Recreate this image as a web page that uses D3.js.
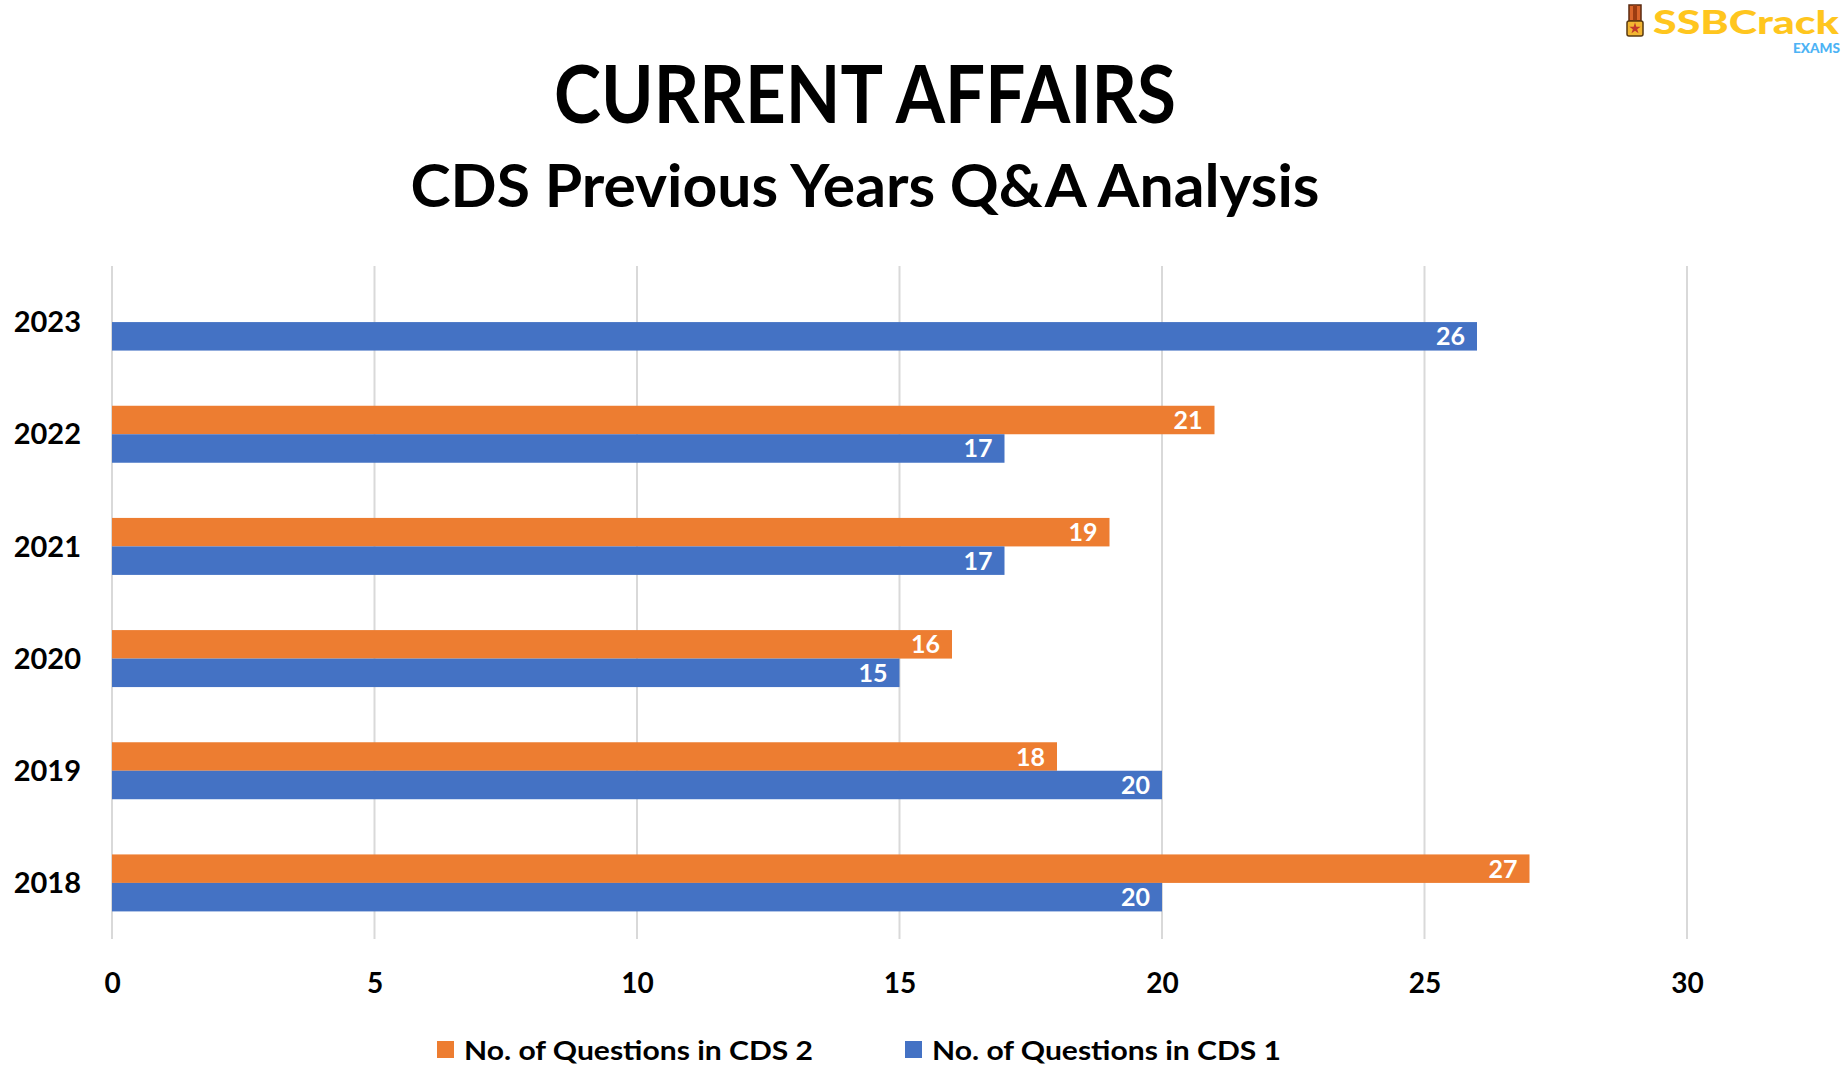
<!DOCTYPE html>
<html>
<head>
<meta charset="utf-8">
<script src="https://cdn.jsdelivr.net/npm/d3@7"></script>
<style>
  html, body { margin: 0; padding: 0; background: #fff; }
  svg { display: block; }
</style>
</head>
<body>
<svg id="chart" width="1847" height="1080"></svg>
<script>
const years = ["2023", "2022", "2021", "2020", "2019", "2018"];
const seriesNames = ["No. of Questions in CDS 2", "No. of Questions in CDS 1"];
const cds2 = [null, 21, 19, 16, 18, 27];
const cds1 = [26, 17, 17, 15, 20, 20];
const xTicks = [0, 5, 10, 15, 20, 25, 30];
const colors = ["#ED7D31", "#4472C4"];

(function () {
const svg = d3.select("#chart");
const font = "Lato, 'Open Sans', sans-serif";

const pLeft = 112, pRight = 1687, pTop = 266, pBottom = 939;

const x = d3.scaleLinear().domain([0, 30]).range([pLeft, pRight]);
const y = d3.scaleBand().domain(years).range([pTop, pBottom]).paddingInner(0).paddingOuter(0);
const step = y.bandwidth();
const inner = d3.scaleBand().domain([0, 1]).range([step * 0.246, step * 0.754]);

// gridlines
svg.append("g").selectAll("line").data(xTicks).join("line")
  .attr("x1", d => x(d)).attr("x2", d => x(d))
  .attr("y1", pTop).attr("y2", pBottom)
  .attr("stroke", "#D9D9D9").attr("stroke-width", 2);

// x axis labels
const xAxis = d3.axisBottom(x).tickValues(xTicks).tickSize(0).tickPadding(0);
const gx = svg.append("g").attr("transform", `translate(0,${pBottom + 44})`).call(xAxis);
gx.select(".domain").remove();
gx.selectAll("text").attr("font-family", font).attr("font-weight", 700)
  .attr("font-size", 28).attr("fill", "#000").attr("dy", "0.36em").attr("y", 0);

// y axis labels
const yAxis = d3.axisLeft(y).tickSize(0).tickPadding(0);
const gy = svg.append("g").attr("transform", `translate(81,0)`).call(yAxis);
gy.select(".domain").remove();
gy.selectAll("text").attr("font-family", font).attr("font-weight", 700)
  .attr("font-size", 29).attr("fill", "#000").attr("dy", "0.35em");

// data
const rows = [];
years.forEach((yr, i) => {
  [cds2[i], cds1[i]].forEach((v, s) => {
    if (v !== null && v !== undefined) rows.push({ year: yr, s, v });
  });
});

svg.append("g").selectAll("rect").data(rows).join("rect")
  .attr("x", x(0))
  .attr("y", d => y(d.year) + inner(d.s))
  .attr("width", d => x(d.v) - x(0))
  .attr("height", inner.bandwidth())
  .attr("fill", d => colors[d.s]);

svg.append("g").selectAll("text").data(rows).join("text")
  .attr("x", d => x(d.v) - 12)
  .attr("y", d => y(d.year) + inner(d.s) + inner.bandwidth() / 2)
  .attr("dy", "0.36em")
  .attr("text-anchor", "end")
  .attr("font-family", font).attr("font-weight", 700).attr("font-size", 25)
  .attr("fill", "#fff")
  .text(d => d.v);

// titles
svg.append("text").attr("x", 865).attr("y", 123).attr("text-anchor", "middle")
  .attr("font-family", font).attr("font-weight", 700).attr("font-size", 80)
  .attr("textLength", 622).attr("lengthAdjust", "spacingAndGlyphs")
  .attr("fill", "#000").text("CURRENT AFFAIRS");
svg.append("text").attr("x", 865).attr("y", 207).attr("text-anchor", "middle")
  .attr("font-family", font).attr("font-weight", 700).attr("font-size", 60)
  .attr("textLength", 909).attr("lengthAdjust", "spacingAndGlyphs")
  .attr("fill", "#000").text("CDS Previous Years Q&A Analysis");

// legend
const legendItems = [{ name: seriesNames[0], c: colors[0], x: 437 }, { name: seriesNames[1], c: colors[1], x: 905 }];
const lg = svg.append("g").selectAll("g").data(legendItems).join("g")
  .attr("transform", d => `translate(${d.x},1041)`);
lg.append("rect").attr("width", 17).attr("height", 17).attr("fill", d => d.c);
lg.append("text").attr("x", 27).attr("y", 9).attr("dy", "0.36em")
  .attr("font-family", font).attr("font-weight", 700).attr("font-size", 27)
  .attr("textLength", 349).attr("lengthAdjust", "spacingAndGlyphs")
  .attr("fill", "#000").text(d => d.name);

// logo
const logo = svg.append("g");
logo.append("rect").attr("x", 1629).attr("y", 5).attr("width", 12).attr("height", 16).attr("fill", "#D9652B").attr("stroke", "#5a2a10").attr("stroke-width", 1.5);
logo.append("rect").attr("x", 1633).attr("y", 5).attr("width", 4).attr("height", 16).attr("fill", "#9c3c12");
logo.append("rect").attr("x", 1627).attr("y", 21).attr("width", 16).attr("height", 15).attr("fill", "#F2B632").attr("stroke", "#5a3a10").attr("stroke-width", 1.5).attr("rx", 2);
logo.append("path").attr("d", d3.symbol(d3.symbolStar, 40)()).attr("transform", "translate(1635,28.5)").attr("fill", "#C0392B");
logo.append("text").attr("x", 1653).attr("y", 34).attr("font-family", "Lato, sans-serif")
  .attr("font-weight", 900).attr("font-size", 33).attr("fill", "#FFC61E")
  .attr("textLength", 186).attr("lengthAdjust", "spacingAndGlyphs").text("SSBCrack");
logo.append("text").attr("x", 1840).attr("y", 53).attr("text-anchor", "end").attr("font-family", "Lato, sans-serif")
  .attr("font-weight", 900).attr("font-size", 13).attr("fill", "#4DB3F5")
  .attr("textLength", 47).attr("lengthAdjust", "spacingAndGlyphs").text("EXAMS");
})();
</script>
</body>
</html>
